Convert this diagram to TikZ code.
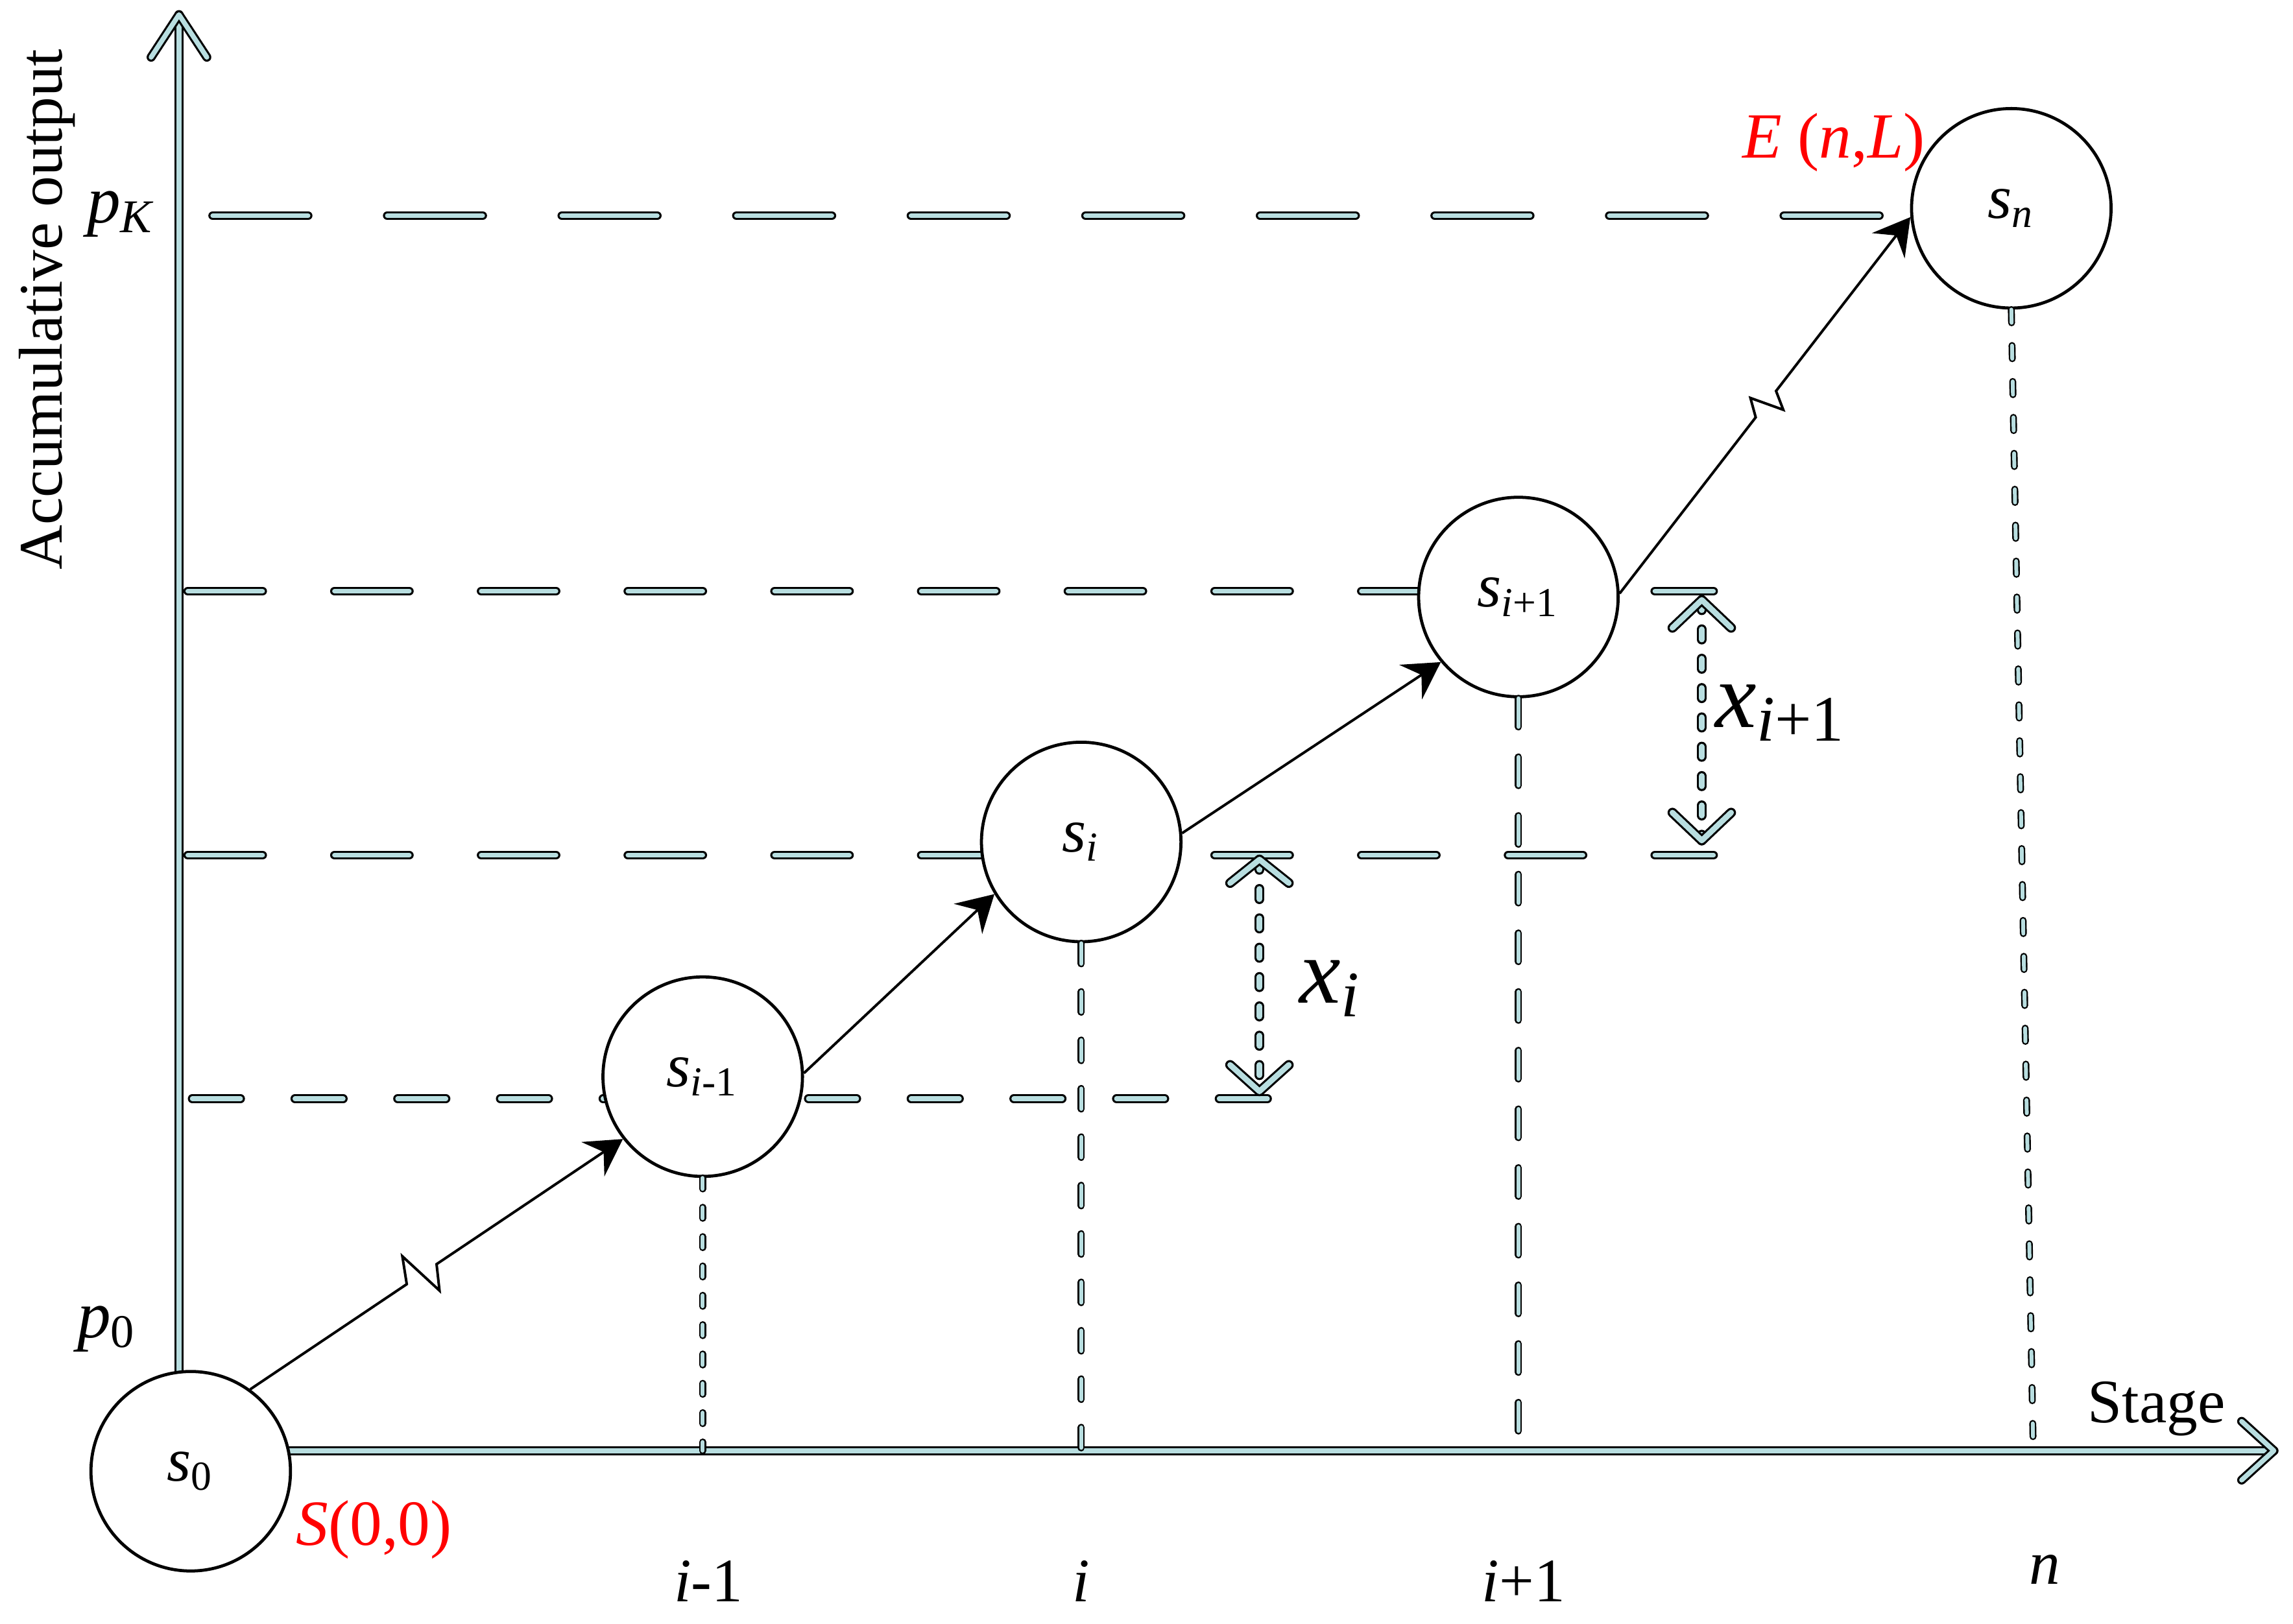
\documentclass[tikz,border=0pt]{standalone}
\usepackage{fontspec}
\setmainfont{Liberation Serif}
\usetikzlibrary{arrows.meta,calc}
\definecolor{lineblue}{RGB}{184,222,224}
\definecolor{labelred}{RGB}{255,0,0}
\begin{document}
\begin{tikzpicture}[
  state/.style={circle,draw,fill=white,line width=0.6pt,minimum size=1.36cm,inner sep=0pt,font=\fontsize{12}{14}\selectfont},
  axisline/.style={draw=black,line width=0.4pt,double=lineblue,double distance=0.95pt,line cap=round,line join=round},
  hline/.style={draw=black,line width=0.4pt,double=lineblue,double distance=0.9pt,line cap=round},
  vline/.style={draw=black,line width=0.3pt,double=lineblue,double distance=0.75pt,line cap=round},
  dimline/.style={draw=black,line width=0.4pt,double=lineblue,double distance=1.1pt,line cap=round,line join=round},
  link/.style={line width=0.5pt,-{Stealth[length=7pt,width=8pt,inset=2.5pt]}},
  lab/.style={font=\fontsize{12}{14}\selectfont},
  plab/.style={font=\fontsize{13}{15}\selectfont},
  big/.style={font=\fontsize{18}{20}\selectfont},
  redlab/.style={text=labelred,font=\fontsize{12.5}{14}\selectfont}
]
\useasboundingbox (0,0) rectangle (15.63,11.07);
\coordinate (O) at (1.22,1.18);
\coordinate (ytip) at (1.22,10.97);
\coordinate (xtip) at (15.50,1.18);
\draw[hline,dash pattern=on 0.65cm off 0.54cm] (1.45,9.60) -- (12.83,9.60);
\draw[hline,dash pattern=on 0.51cm off 0.49cm] (1.28,7.04) -- (11.68,7.04);
\draw[hline,dash pattern=on 0.51cm off 0.49cm] (1.28,5.24) -- (11.68,5.24);
\draw[hline,dash pattern=on 0.33cm off 0.37cm] (1.31,3.58) -- (8.68,3.58);
\draw[axisline] (O) -- (ytip);
\draw[axisline] (ytip) ++(-0.19,-0.29) -- (ytip) -- ++(0.19,-0.29);
\draw[axisline] (O) -- (xtip);
\draw[axisline] (xtip) ++(-0.22,0.20) -- (xtip) -- ++(-0.22,-0.20);
\node[state] (s0) at (1.30,1.04) {\textit{s}\textsubscript{0}};
\node[state] (sim1) at (4.79,3.73) {\textit{s}\textsubscript{\textit{i}-1}};
\node[state] (si) at (7.37,5.33) {\textit{s}\textsubscript{\textit{i}}};
\node[state] (sip1) at (10.35,7.00) {\textit{s}\textsubscript{\textit{i}+1}};
\node[state] (sn) at (13.71,9.65) {\textit{s}\textsubscript{\textit{n}}};
\coordinate (nfoot) at (13.86,1.16);
\draw[vline,dash pattern=on 0.075cm off 0.125cm] (sim1.south) -- (sim1.south |- O);
\draw[vline,dash pattern=on 0.14cm off 0.19cm] (si.south) -- (si.south |- O);
\draw[vline,dash pattern=on 0.195cm off 0.205cm] (sip1.south) -- (sip1.south |- O);
\draw[vline,dash pattern=on 0.09cm off 0.155cm] (sn.south) -- (nfoot);
\coordinate (xa) at (8.585,5.21);
\coordinate (xb) at (8.585,3.63);
\draw[dimline,dash pattern=on 0.07cm off 0.13cm] (xa) -- (xb);
\draw[dimline] (xa) ++(-0.20,-0.16) -- (xa) -- ++(0.20,-0.16);
\draw[dimline] (xb) ++(-0.20,0.18) -- (xb) -- ++(0.20,0.18);
\coordinate (xc) at (11.60,6.98);
\coordinate (xd) at (11.60,5.34);
\draw[dimline,dash pattern=on 0.07cm off 0.13cm] (xc) -- (xd);
\draw[dimline] (xc) ++(-0.20,-0.19) -- (xc) -- ++(0.20,-0.19);
\draw[dimline] (xd) ++(-0.20,0.19) -- (xd) -- ++(0.20,0.19);
\coordinate (za) at ($(s0.54)!0.42!(sim1.218)$);
\coordinate (zb) at ($(s0.54)!0.50!(sim1.218)$);
\draw[link] (s0.54) -- (za) -- ++(-0.03,0.19) -- ($(zb)+(0.02,-0.18)$) -- (zb) -- (sim1.218);
\draw[link] (sim1.2) -- (si.211);
\draw[link] (si.5) -- (sip1.220);
\coordinate (zc) at ($(sip1.2)!0.468!(sn.185)$);
\coordinate (zd) at ($(sip1.2)!0.538!(sn.185)$);
\draw[link] (sip1.2) -- (zc) -- ++(-0.036,0.132) -- ($(zd)+(0.049,-0.128)$) -- (zd) -- (sn.185);
\node[big] (xilab) at (9.07,4.33) {\textit{x}\textsubscript{\textit{i}}};
\node[big] (xiplab) at (12.14,6.21) {\textit{x}\textsubscript{\textit{i}+1}};
\node[lab,rotate=90] (yname) at (0.32,8.96) {Accumulative output};
\node[lab,anchor=base] (xname) at (14.70,1.37) {Stage};
\node[plab] (pk) at (0.83,9.61) {\textit{p}\textsubscript{\textit{K}}};
\node[plab] (p0) at (0.73,2.01) {\textit{p}\textsubscript{0}};
\node[redlab] (slab) at (2.55,0.64) {\textit{S}(0,0)};
\node[redlab] (elab) at (12.50,10.10) {\textit{E} (\textit{n},\textit{L})};
\node[lab,anchor=base] (t1) at (4.83,0.15) {\textit{i}-1};
\node[lab,anchor=base] (t2) at (7.37,0.15) {\textit{i}};
\node[lab,anchor=base] (t3) at (10.385,0.15) {\textit{i}+1};
\node[lab,anchor=base] (t4) at (13.94,0.27) {\textit{n}};
\end{tikzpicture}
\end{document}
